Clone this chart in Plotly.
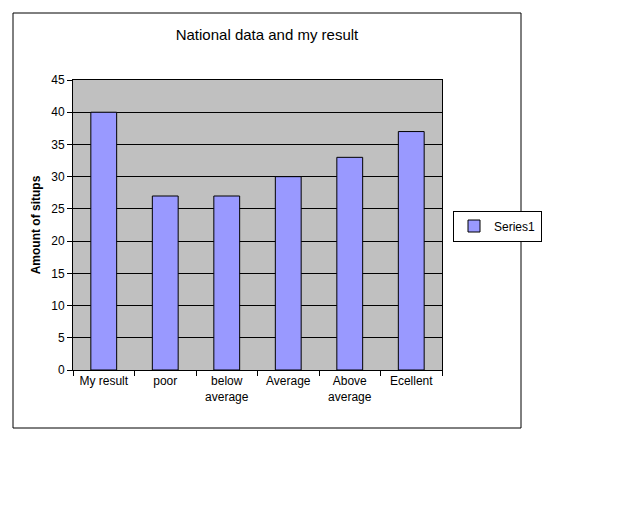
import plotly.graph_objects as go

categories = ["My result", "poor", "below<br>average", "Average", "Above<br>average", "Ecellent"]
values = [40, 27, 27, 30, 33, 37]
series_name = "Series1"

fig = go.Figure(go.Bar(x=categories, y=values, name=series_name, width=0.42,
                       marker=dict(color="#9999FF", line=dict(color="black", width=1)),
                       showlegend=True))
W0, H0 = 369, 290
def px(x): return (x - 65) / W0
def py(y): return (362 - y) / H0
fig.update_layout(
    width=640, height=512, margin=dict(l=65, r=206, t=72, b=150),
    paper_bgcolor="white", plot_bgcolor="#C0C0C0",
    font=dict(family="Liberation Sans, Arial", size=12, color="black"),
    title=dict(text="National data and my result", x=px(259), xref="paper", xanchor="center",
               y=1 - 27/512, yanchor="middle", font=dict(size=15)),
    xaxis=dict(showline=True, linecolor="black", mirror=True, ticks="outside", tickson="boundaries",
               ticklen=5, tickcolor="black", showgrid=False, tickfont=dict(size=12)),
    yaxis=dict(range=[0, 45], dtick=5, showline=True, linecolor="black", mirror=True,
               ticks="outside", ticklen=5, tickcolor="black", gridcolor="black", gridwidth=1,
               zeroline=False, title=dict(text="<b>Amount of situps</b>", font=dict(size=12), standoff=8)),
    legend=dict(x=px(445), y=py(218), xanchor="left", yanchor="middle", bordercolor="black",
                borderwidth=1, bgcolor="white", font=dict(size=12)),
    bargap=0.58,
    shapes=[dict(type="rect", xref="paper", yref="paper", x0=px(5), x1=px(513), y0=py(420), y1=py(5),
                 line=dict(color="black", width=1), layer="below")],
)
fig.write_html("out.html")
